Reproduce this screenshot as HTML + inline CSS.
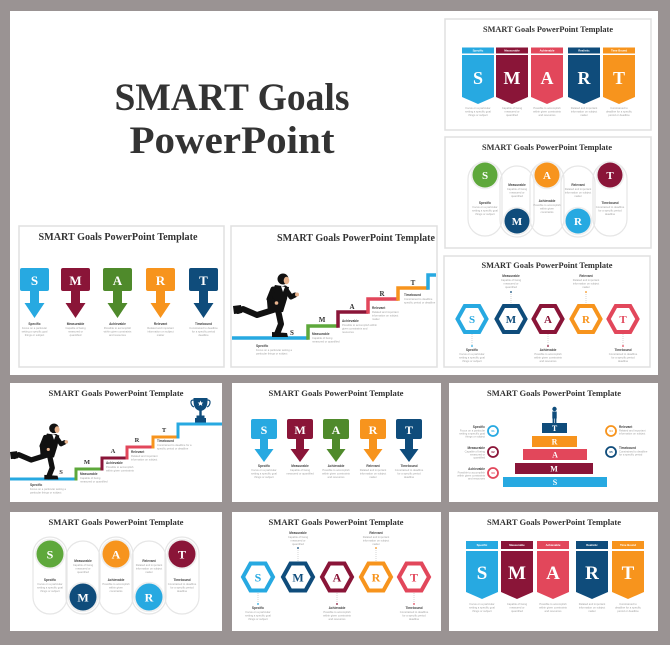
<!DOCTYPE html>
<html><head><meta charset="utf-8"><style>
html,body{margin:0;padding:0;background:#9a9393;}
svg{display:block}
.t{font-family:"Liberation Serif",serif;font-weight:bold;fill:#333;text-anchor:middle}
.lt{font-family:"Liberation Serif",serif;font-weight:bold;fill:#fff;text-anchor:middle}
.l{font-family:"Liberation Sans",sans-serif;font-weight:bold;font-size:3.2px;fill:#444;text-anchor:middle}
.g{font-family:"Liberation Sans",sans-serif;font-size:2.7px;fill:#a3a3a3;text-anchor:middle}
.h{font-family:"Liberation Sans",sans-serif;font-weight:bold;font-size:2.8px;fill:#fff;text-anchor:middle}
.s{text-anchor:start}
.e{text-anchor:end}
</style></head><body>
<svg width="670" height="645" viewBox="0 0 670 645" xmlns="http://www.w3.org/2000/svg">
<defs>
<g id="runner">
  <polyline points="40,37 24,42 10,36 5,38" fill="none" stroke="#111" stroke-width="6" stroke-linejoin="round" stroke-linecap="round"/>
  <polygon points="0,33 8,32 9,40 1,41" fill="#111"/>
  <polyline points="45,37 48,51 44,61" fill="none" stroke="#111" stroke-width="6" stroke-linejoin="round" stroke-linecap="round"/>
  <polygon points="39,59 54,60 55,64 39,64" fill="#111"/>
  <polygon points="42,12 56,14 54,26 50,39 35,40 34,28" fill="#111"/>
  <polyline points="52,15 58,24 62,22" fill="none" stroke="#111" stroke-width="5" stroke-linejoin="round" stroke-linecap="round"/>
  <circle cx="64" cy="21.5" r="2" fill="#e8b48f"/>
  <polyline points="40,16 36,26 42,30" fill="none" stroke="#111" stroke-width="5" stroke-linejoin="round" stroke-linecap="round"/>
  <circle cx="43.5" cy="30" r="1.8" fill="#e8b48f"/>
  <polygon points="48,13 52,14 50,19" fill="#fff"/>
  <circle cx="50" cy="6" r="5.5" fill="#111"/>
  <ellipse cx="53.5" cy="7.5" rx="2.8" ry="3.8" fill="#e8b48f"/>
</g>
</defs>

<rect x="0" y="0" width="670" height="645" fill="#9a9393"/>
<rect x="10" y="11" width="648" height="364" fill="#fff"/>

<text class="t" x="232" y="110" font-size="39" textLength="235" lengthAdjust="spacingAndGlyphs">SMART Goals</text>
<text class="t" x="232" y="153" font-size="39" textLength="205" lengthAdjust="spacingAndGlyphs">PowerPoint</text>

<!-- frames -->
<rect x="19" y="226" width="205" height="141" fill="#fff" stroke="#e0e0e0" stroke-width="1.5"/>
<rect x="231" y="226" width="206" height="141" fill="#fff" stroke="#e0e0e0" stroke-width="1.5"/>
<rect x="445" y="19" width="206" height="111" fill="#fff" stroke="#e0e0e0" stroke-width="1.5"/>
<rect x="445" y="137" width="206" height="111" fill="#fff" stroke="#e0e0e0" stroke-width="1.5"/>
<rect x="444" y="256" width="206" height="111" fill="#fff" stroke="#e0e0e0" stroke-width="1.5"/>
<rect x="10" y="383" width="212" height="119" fill="#fff"/>
<rect x="232" y="383" width="209" height="119" fill="#fff"/>
<rect x="449" y="383" width="209" height="119" fill="#fff"/>
<rect x="10" y="512" width="212" height="119" fill="#fff"/>
<rect x="232" y="512" width="209" height="119" fill="#fff"/>
<rect x="449" y="512" width="209" height="119" fill="#fff"/>

<!-- ===== FA banner ===== -->
<text class="t" x="548" y="32" font-size="8.3" textLength="130" lengthAdjust="spacingAndGlyphs">SMART Goals PowerPoint Template</text>
<rect x="462" y="47.5" width="32" height="6" fill="#27a9e1"/>
<rect x="496" y="47.5" width="32" height="6" fill="#8a1538"/>
<rect x="531" y="47.5" width="32" height="6" fill="#e2475b"/>
<rect x="568" y="47.5" width="32" height="6" fill="#0f4c7b"/>
<rect x="603" y="47.5" width="32" height="6" fill="#f7941d"/>
<text class="h" x="478" y="51.7">Specific</text>
<text class="h" x="512" y="51.7">Measurable</text>
<text class="h" x="547" y="51.7">Achievable</text>
<text class="h" x="584" y="51.7">Realistic</text>
<text class="h" x="619" y="51.7">Time Bound</text>
<polygon points="462,55 494,55 494,97 478,104 462,97" fill="#27a9e1"/>
<polygon points="496,55 528,55 528,97 512,104 496,97" fill="#8a1538"/>
<polygon points="531,55 563,55 563,97 547,104 531,97" fill="#e2475b"/>
<polygon points="568,55 600,55 600,97 584,104 568,97" fill="#0f4c7b"/>
<polygon points="603,55 635,55 635,97 619,104 603,97" fill="#f7941d"/>
<text class="lt" x="478" y="84" font-size="18">S</text>
<text class="lt" x="512" y="84" font-size="18">M</text>
<text class="lt" x="547" y="84" font-size="18">A</text>
<text class="lt" x="584" y="84" font-size="18">R</text>
<text class="lt" x="619" y="84" font-size="18">T</text>
<text class="g" x="478" y="109">Focus on a particular</text><text class="g" x="478" y="112.5">setting a specific goal</text><text class="g" x="478" y="116">things or subject</text>
<text class="g" x="512" y="109">Capable of being</text><text class="g" x="512" y="112.5">measured or</text><text class="g" x="512" y="116">quantified</text>
<text class="g" x="547" y="109">Possible to accomplish</text><text class="g" x="547" y="112.5">within given constraints</text><text class="g" x="547" y="116">and resources</text>
<text class="g" x="584" y="109">Related and important</text><text class="g" x="584" y="112.5">information on subject</text><text class="g" x="584" y="116">matter</text>
<text class="g" x="619" y="109">Constrained to</text><text class="g" x="619" y="112.5">deadline for a specific</text><text class="g" x="619" y="116">period or deadline</text>

<!-- ===== FB circles ===== -->
<text class="t" x="547" y="150" font-size="8.3" textLength="130" lengthAdjust="spacingAndGlyphs">SMART Goals PowerPoint Template</text>
<g fill="none" stroke="#e6e6e6" stroke-width="1.2">
<rect x="468" y="162" width="34" height="74" rx="17"/>
<rect x="500" y="166" width="34" height="71" rx="17"/>
<rect x="530" y="162" width="34" height="74" rx="17"/>
<rect x="561" y="166" width="34" height="71" rx="17"/>
<rect x="593" y="162" width="34" height="74" rx="17"/>
</g>
<g fill="#efefef">
<circle cx="485" cy="175" r="14.3"/><circle cx="547" cy="175" r="14.3"/><circle cx="610" cy="175" r="14.3"/>
<circle cx="517" cy="221" r="14.3"/><circle cx="578" cy="221" r="14.3"/>
</g>
<circle cx="485" cy="175" r="12.5" fill="#5ea83b"/>
<circle cx="547" cy="175" r="12.5" fill="#f7941d"/>
<circle cx="610" cy="175" r="12.5" fill="#8a1538"/>
<circle cx="517" cy="221" r="12.5" fill="#0f4c7b"/>
<circle cx="578" cy="221" r="12.5" fill="#27a9e1"/>
<text class="lt" x="485" y="179" font-size="11">S</text>
<text class="lt" x="547" y="179" font-size="11">A</text>
<text class="lt" x="610" y="179" font-size="11">T</text>
<text class="lt" x="517" y="225" font-size="11">M</text>
<text class="lt" x="578" y="225" font-size="11">R</text>
<text class="l" x="517" y="186">Measurable</text><text class="g" x="517" y="190">Capable of being</text><text class="g" x="517" y="193.5">measured or</text><text class="g" x="517" y="197">quantified</text>
<text class="l" x="485" y="204">Specific</text><text class="g" x="485" y="208">Focus on a particular</text><text class="g" x="485" y="211.5">setting a specific goal</text><text class="g" x="485" y="215">things or subject</text>
<text class="l" x="547" y="202">Achievable</text><text class="g" x="547" y="206">Possible to accomplish</text><text class="g" x="547" y="209.5">within given</text><text class="g" x="547" y="213">constraints</text>
<text class="l" x="578" y="186">Relevant</text><text class="g" x="578" y="190">Related and important</text><text class="g" x="578" y="193.5">information on subject</text><text class="g" x="578" y="197">matter</text>
<text class="l" x="610" y="204">Timebound</text><text class="g" x="610" y="208">Constrained to deadline</text><text class="g" x="610" y="211.5">for a specific period</text><text class="g" x="610" y="215">deadline</text>

<!-- ===== FC hexagons ===== -->
<text class="t" x="547" y="268" font-size="8.3" textLength="131" lengthAdjust="spacingAndGlyphs">SMART Goals PowerPoint Template</text>
<g fill="#fff" stroke-width="4" stroke-linejoin="miter">
<polygon points="457.5,319 464.75,306 479.25,306 486.5,319 479.25,332 464.75,332" stroke="#27a9e1"/>
<polygon points="496.5,319 503.75,306 518.25,306 525.5,319 518.25,332 503.75,332" stroke="#0f4c7b"/>
<polygon points="533.5,319 540.75,306 555.25,306 562.5,319 555.25,332 540.75,332" stroke="#8a1538"/>
<polygon points="571.5,319 578.75,306 593.25,306 600.5,319 593.25,332 578.75,332" stroke="#f7941d"/>
<polygon points="608.5,319 615.75,306 630.25,306 637.5,319 630.25,332 615.75,332" stroke="#e2475b"/>
</g>
<text class="t" x="472" y="323" font-size="11" style="fill:#27a9e1">S</text>
<text class="t" x="511" y="323" font-size="11" style="fill:#0f4c7b">M</text>
<text class="t" x="548" y="323" font-size="11" style="fill:#8a1538">A</text>
<text class="t" x="586" y="323" font-size="11" style="fill:#f7941d">R</text>
<text class="t" x="623" y="323" font-size="11" style="fill:#e2475b">T</text>
<g stroke="#bbb" stroke-width="0.6" stroke-dasharray="1 1">
<line x1="511" y1="292" x2="511" y2="304"/><line x1="586" y1="292" x2="586" y2="304"/>
<line x1="472" y1="334" x2="472" y2="346"/><line x1="548" y1="334" x2="548" y2="346"/><line x1="623" y1="334" x2="623" y2="346"/>
</g>
<circle cx="511" cy="292" r="0.9" fill="#0f4c7b"/><circle cx="586" cy="292" r="0.9" fill="#f7941d"/>
<circle cx="472" cy="346" r="0.9" fill="#27a9e1"/><circle cx="548" cy="346" r="0.9" fill="#8a1538"/><circle cx="623" cy="346" r="0.9" fill="#e2475b"/>
<text class="l" x="511" y="277">Measurable</text><text class="g" x="511" y="281">Capable of being</text><text class="g" x="511" y="284.5">measured or</text><text class="g" x="511" y="288">quantified</text>
<text class="l" x="586" y="277">Relevant</text><text class="g" x="586" y="281">Related and important</text><text class="g" x="586" y="284.5">information on subject</text><text class="g" x="586" y="288">matter</text>
<text class="l" x="472" y="351">Specific</text><text class="g" x="472" y="355">Focus on a particular</text><text class="g" x="472" y="358.5">setting a specific goal</text><text class="g" x="472" y="362">things or subject</text>
<text class="l" x="548" y="351">Achievable</text><text class="g" x="548" y="355">Possible to accomplish</text><text class="g" x="548" y="358.5">within given constraints</text><text class="g" x="548" y="362">and resources</text>
<text class="l" x="623" y="351">Timebound</text><text class="g" x="623" y="355">Constrained to deadline</text><text class="g" x="623" y="358.5">for a specific period</text><text class="g" x="623" y="362">deadline</text>

<!-- ===== F1 arrows ===== -->
<text class="t" x="118" y="240" font-size="10" textLength="159" lengthAdjust="spacingAndGlyphs">SMART Goals PowerPoint Template</text>
<g fill="#27a9e1"><rect x="20" y="268" width="29" height="23" rx="2"/><rect x="30" y="290" width="9" height="14"/><polygon points="24.5,303 44.5,303 34.5,318"/></g>
<g fill="#8a1538"><rect x="61" y="268" width="29" height="23" rx="2"/><rect x="71" y="290" width="9" height="14"/><polygon points="65.5,303 85.5,303 75.5,318"/></g>
<g fill="#4f8a2b"><rect x="103" y="268" width="29" height="23" rx="2"/><rect x="113" y="290" width="9" height="14"/><polygon points="107.5,303 127.5,303 117.5,318"/></g>
<g fill="#f7941d"><rect x="146" y="268" width="29" height="23" rx="2"/><rect x="156" y="290" width="9" height="14"/><polygon points="150.5,303 170.5,303 160.5,318"/></g>
<g fill="#0f4c7b"><rect x="189" y="268" width="29" height="23" rx="2"/><rect x="199" y="290" width="9" height="14"/><polygon points="193.5,303 213.5,303 203.5,318"/></g>
<text class="lt" x="34.5" y="285" font-size="13">S</text>
<text class="lt" x="75.5" y="285" font-size="13">M</text>
<text class="lt" x="117.5" y="285" font-size="13">A</text>
<text class="lt" x="160.5" y="285" font-size="13">R</text>
<text class="lt" x="203.5" y="285" font-size="13">T</text>
<text class="l" x="34.5" y="325">Specific</text><text class="g" x="34.5" y="329">Focus on a particular</text><text class="g" x="34.5" y="332.5">setting a specific goal</text><text class="g" x="34.5" y="336">things or subject</text>
<text class="l" x="75.5" y="325">Measurable</text><text class="g" x="75.5" y="329">Capable of being</text><text class="g" x="75.5" y="332.5">measured or</text><text class="g" x="75.5" y="336">quantified</text>
<text class="l" x="117.5" y="325">Achievable</text><text class="g" x="117.5" y="329">Possible to accomplish</text><text class="g" x="117.5" y="332.5">within given constraints</text><text class="g" x="117.5" y="336">and resources</text>
<text class="l" x="160.5" y="325">Relevant</text><text class="g" x="160.5" y="329">Related and important</text><text class="g" x="160.5" y="332.5">information on subject</text><text class="g" x="160.5" y="336">matter</text>
<text class="l" x="203.5" y="325">Timebound</text><text class="g" x="203.5" y="329">Constrained to deadline</text><text class="g" x="203.5" y="332.5">for a specific period</text><text class="g" x="203.5" y="336">deadline</text>

<!-- ===== F2 stairs ===== -->
<text class="t" x="356" y="241" font-size="10" textLength="158" lengthAdjust="spacingAndGlyphs">SMART Goals PowerPoint Template</text>
<g fill="none" stroke-width="3.5">
<polyline points="232,338 308,338" stroke="#27a9e1"/>
<polyline points="308,339.7 308,326 338,326" stroke="#5ea83b"/>
<polyline points="338,327.7 338,312 368,312" stroke="#8a1538"/>
<polyline points="368,313.7 368,299 398,299" stroke="#e2475b"/>
<polyline points="398,300.7 398,288 428,288" stroke="#f7941d"/>
<polyline points="428,289.7 428,275 436,275" stroke="#27a9e1"/>
</g>
<use href="#runner" transform="translate(233,273)"/>
<text class="t" x="292" y="335" font-size="7">S</text>
<text class="t" x="322" y="322" font-size="7">M</text>
<text class="t" x="352" y="309" font-size="7">A</text>
<text class="t" x="382" y="296" font-size="7">R</text>
<text class="t" x="413" y="285" font-size="7">T</text>
<text class="l s" x="256" y="347">Specific</text><text class="g s" x="256" y="351">Focus on a particular setting a</text><text class="g s" x="256" y="354.5">particular things or subject</text>
<text class="l s" x="312" y="335">Measurable</text><text class="g s" x="312" y="339">Capable of being</text><text class="g s" x="312" y="342.5">measured or quantified</text>
<text class="l s" x="342" y="322">Achievable</text><text class="g s" x="342" y="326">Possible to accomplish within</text><text class="g s" x="342" y="329.5">given constraints and</text><text class="g s" x="342" y="333">resources</text>
<text class="l s" x="372" y="309">Relevant</text><text class="g s" x="372" y="313">Related and important</text><text class="g s" x="372" y="316.5">information on subject</text><text class="g s" x="372" y="320">matter</text>
<text class="l s" x="404" y="296">Timebound</text><text class="g s" x="404" y="300">Constrained to deadline</text><text class="g s" x="404" y="303.5">specific period or deadline</text>

<!-- ===== R2a stairs ===== -->
<text class="t" x="116" y="396" font-size="8.6" textLength="135" lengthAdjust="spacingAndGlyphs">SMART Goals PowerPoint Template</text>
<g fill="none" stroke-width="3">
<polyline points="10,479 76,479" stroke="#27a9e1"/>
<polyline points="76,480.5 76,469 102,469" stroke="#5ea83b"/>
<polyline points="102,470.5 102,458 127,458" stroke="#8a1538"/>
<polyline points="127,459.5 127,447 153,447" stroke="#e2475b"/>
<polyline points="153,448.5 153,437 178,437" stroke="#f7941d"/>
<polyline points="178,438.5 178,424 222,424" stroke="#27a9e1"/>
</g>
<use href="#runner" transform="translate(10,423) scale(0.88)"/>
<g fill="#0f4c7b">
<path d="M193.5,398 h14 v3 q0,9 -7,10 q-7,-1 -7,-10z"/>
<rect x="199.3" y="410" width="2.4" height="6"/>
<rect x="196.5" y="415.5" width="8" height="2.5"/>
<rect x="195" y="418" width="11" height="4.5"/>
</g>
<g fill="none" stroke="#0f4c7b" stroke-width="1.2"><path d="M193.5,400 q-3,0 -2.5,3 q0.5,3 3,4"/><path d="M207.5,400 q3,0 2.5,3 q-0.5,3 -3,4"/></g>
<polygon points="200.5,400.5 201.3,402.5 203.3,402.6 201.8,403.9 202.3,405.9 200.5,404.8 198.7,405.9 199.2,403.9 197.7,402.6 199.7,402.5" fill="#fff"/>
<text class="t" x="61" y="474" font-size="6.5">S</text>
<text class="t" x="87" y="464" font-size="6.5">M</text>
<text class="t" x="113" y="453" font-size="6.5">A</text>
<text class="t" x="137" y="442" font-size="6.5">R</text>
<text class="t" x="164" y="432" font-size="6.5">T</text>
<text class="l s" x="30" y="486">Specific</text><text class="g s" x="30" y="490">Focus on a particular setting a</text><text class="g s" x="30" y="493.5">particular things or subject</text>
<text class="l s" x="80" y="475">Measurable</text><text class="g s" x="80" y="479">Capable of being</text><text class="g s" x="80" y="482.5">measured or quantified</text>
<text class="l s" x="106" y="464">Achievable</text><text class="g s" x="106" y="468">Possible to accomplish</text><text class="g s" x="106" y="471.5">within given constraints</text>
<text class="l s" x="131" y="453">Relevant</text><text class="g s" x="131" y="457">Related and important</text><text class="g s" x="131" y="460.5">information on subject</text>
<text class="l s" x="157" y="442">Timebound</text><text class="g s" x="157" y="446">Constrained to deadline for a</text><text class="g s" x="157" y="449.5">specific period or deadline</text>

<!-- ===== R2b arrows ===== -->
<text class="t" x="336" y="396" font-size="8.6" textLength="135" lengthAdjust="spacingAndGlyphs">SMART Goals PowerPoint Template</text>
<g fill="#27a9e1"><rect x="251" y="419" width="26" height="20" rx="2"/><rect x="260" y="438" width="8" height="12"/><polygon points="254.5,449 273.5,449 264,462"/></g>
<g fill="#8a1538"><rect x="287" y="419" width="26" height="20" rx="2"/><rect x="296" y="438" width="8" height="12"/><polygon points="290.5,449 309.5,449 300,462"/></g>
<g fill="#4f8a2b"><rect x="323" y="419" width="26" height="20" rx="2"/><rect x="332" y="438" width="8" height="12"/><polygon points="326.5,449 345.5,449 336,462"/></g>
<g fill="#f7941d"><rect x="360" y="419" width="26" height="20" rx="2"/><rect x="369" y="438" width="8" height="12"/><polygon points="363.5,449 382.5,449 373,462"/></g>
<g fill="#0f4c7b"><rect x="396" y="419" width="26" height="20" rx="2"/><rect x="405" y="438" width="8" height="12"/><polygon points="399.5,449 418.5,449 409,462"/></g>
<text class="lt" x="264" y="434" font-size="12">S</text>
<text class="lt" x="300" y="434" font-size="12">M</text>
<text class="lt" x="336" y="434" font-size="12">A</text>
<text class="lt" x="373" y="434" font-size="12">R</text>
<text class="lt" x="409" y="434" font-size="12">T</text>
<text class="l" x="264" y="467">Specific</text><text class="g" x="264" y="471">Focus on a particular</text><text class="g" x="264" y="474.5">setting a specific goal</text><text class="g" x="264" y="478">things or subject</text>
<text class="l" x="300" y="467">Measurable</text><text class="g" x="300" y="471">Capable of being</text><text class="g" x="300" y="474.5">measured or quantified</text>
<text class="l" x="336" y="467">Achievable</text><text class="g" x="336" y="471">Possible to accomplish</text><text class="g" x="336" y="474.5">within given constraints</text><text class="g" x="336" y="478">and resources</text>
<text class="l" x="373" y="467">Relevant</text><text class="g" x="373" y="471">Related and important</text><text class="g" x="373" y="474.5">information on subject</text><text class="g" x="373" y="478">matter</text>
<text class="l" x="409" y="467">Timebound</text><text class="g" x="409" y="471">Constrained to deadline</text><text class="g" x="409" y="474.5">for a specific period</text><text class="g" x="409" y="478">deadline</text>

<!-- ===== R2c pyramid ===== -->
<text class="t" x="554" y="396" font-size="8.6" textLength="134" lengthAdjust="spacingAndGlyphs">SMART Goals PowerPoint Template</text>
<g fill="#0f4c7b"><circle cx="554.5" cy="409" r="2.2"/><rect x="552.3" y="411.5" width="4.4" height="7"/><rect x="552.6" y="418" width="1.6" height="5"/><rect x="554.8" y="418" width="1.6" height="5"/></g>
<rect x="542" y="423" width="25" height="10" fill="#0f4c7b"/>
<rect x="532" y="436" width="45" height="11" fill="#f7941d"/>
<rect x="523" y="449" width="64" height="11" fill="#e2475b"/>
<rect x="515" y="463" width="78" height="11" fill="#8a1538"/>
<rect x="503" y="477" width="104" height="10" fill="#27a9e1"/>
<text class="lt" x="554.5" y="431" font-size="8">T</text>
<text class="lt" x="554.5" y="444.5" font-size="8">R</text>
<text class="lt" x="555" y="457.5" font-size="8">A</text>
<text class="lt" x="554" y="471.5" font-size="8">M</text>
<text class="lt" x="555" y="485" font-size="8">S</text>
<g fill="#fff" stroke-width="1.8">
<circle cx="493" cy="431" r="5" stroke="#27a9e1"/>
<circle cx="493" cy="452" r="5" stroke="#8a1538"/>
<circle cx="493" cy="473" r="5" stroke="#e2475b"/>
<circle cx="611" cy="431" r="5" stroke="#f7941d"/>
<circle cx="611" cy="452" r="5" stroke="#0f4c7b"/>
</g>
<text class="l" x="493" y="432.2" style="fill:#27a9e1;font-size:3px">01</text>
<text class="l" x="493" y="453.2" style="fill:#8a1538;font-size:3px">02</text>
<text class="l" x="493" y="474.2" style="fill:#e2475b;font-size:3px">03</text>
<text class="l" x="611" y="432.2" style="fill:#f7941d;font-size:3px">04</text>
<text class="l" x="611" y="453.2" style="fill:#0f4c7b;font-size:3px">05</text>
<text class="l e" x="485" y="428">Specific</text><text class="g e" x="485" y="431.5">Focus on a particular</text><text class="g e" x="485" y="434.5">setting a specific goal</text><text class="g e" x="485" y="437.5">things or subject</text>
<text class="l e" x="485" y="449">Measurable</text><text class="g e" x="485" y="452.5">Capable of being</text><text class="g e" x="485" y="455.5">measured or</text><text class="g e" x="485" y="458.5">quantified</text>
<text class="l e" x="485" y="470">Achievable</text><text class="g e" x="485" y="473.5">Possible to accomplish</text><text class="g e" x="485" y="476.5">within given constraints</text><text class="g e" x="485" y="479.5">and resources</text>
<text class="l s" x="619" y="428">Relevant</text><text class="g s" x="619" y="431.5">Related and important</text><text class="g s" x="619" y="434.5">information on subject</text>
<text class="l s" x="619" y="449">Timebound</text><text class="g s" x="619" y="452.5">Constrained to deadline</text><text class="g s" x="619" y="455.5">for a specific period</text>

<!-- ===== R3a circles ===== -->
<text class="t" x="116" y="525" font-size="8.6" textLength="135" lengthAdjust="spacingAndGlyphs">SMART Goals PowerPoint Template</text>
<g fill="none" stroke="#e6e6e6" stroke-width="1.2">
<rect x="33" y="537" width="34" height="77" rx="17"/>
<rect x="66" y="541" width="34" height="73" rx="17"/>
<rect x="99" y="537" width="34" height="77" rx="17"/>
<rect x="132" y="541" width="34" height="73" rx="17"/>
<rect x="165" y="537" width="34" height="77" rx="17"/>
</g>
<g fill="#efefef">
<circle cx="50" cy="554" r="15.3"/><circle cx="116" cy="554" r="15.3"/><circle cx="182" cy="554" r="15.3"/>
<circle cx="83" cy="597" r="15.3"/><circle cx="149" cy="597" r="15.3"/>
</g>
<circle cx="50" cy="554" r="13.5" fill="#5ea83b"/>
<circle cx="116" cy="554" r="13.5" fill="#f7941d"/>
<circle cx="182" cy="554" r="13.5" fill="#8a1538"/>
<circle cx="83" cy="597" r="13.5" fill="#0f4c7b"/>
<circle cx="149" cy="597" r="13.5" fill="#27a9e1"/>
<text class="lt" x="50" y="558.5" font-size="12">S</text>
<text class="lt" x="116" y="558.5" font-size="12">A</text>
<text class="lt" x="182" y="558.5" font-size="12">T</text>
<text class="lt" x="83" y="601.5" font-size="12">M</text>
<text class="lt" x="149" y="601.5" font-size="12">R</text>
<text class="l" x="83" y="562">Measurable</text><text class="g" x="83" y="566">Capable of being</text><text class="g" x="83" y="569.5">measured or</text><text class="g" x="83" y="573">quantified</text>
<text class="l" x="50" y="581">Specific</text><text class="g" x="50" y="585">Focus on a particular</text><text class="g" x="50" y="588.5">setting a specific goal</text><text class="g" x="50" y="592">things or subject</text>
<text class="l" x="116" y="581">Achievable</text><text class="g" x="116" y="585">Possible to accomplish</text><text class="g" x="116" y="588.5">within given</text><text class="g" x="116" y="592">constraints</text>
<text class="l" x="149" y="562">Relevant</text><text class="g" x="149" y="566">Related and important</text><text class="g" x="149" y="569.5">information on subject</text><text class="g" x="149" y="573">matter</text>
<text class="l" x="182" y="581">Timebound</text><text class="g" x="182" y="585">Constrained to deadline</text><text class="g" x="182" y="588.5">for a specific period</text><text class="g" x="182" y="592">deadline</text>

<!-- ===== R3b hexagons ===== -->
<text class="t" x="336" y="525" font-size="8.6" textLength="135" lengthAdjust="spacingAndGlyphs">SMART Goals PowerPoint Template</text>
<g fill="#fff" stroke-width="4">
<polygon points="243,577 250.5,563.5 265.5,563.5 273,577 265.5,590.5 250.5,590.5" stroke="#27a9e1"/>
<polygon points="283,577 290.5,563.5 305.5,563.5 313,577 305.5,590.5 290.5,590.5" stroke="#0f4c7b"/>
<polygon points="322,577 329.5,563.5 344.5,563.5 352,577 344.5,590.5 329.5,590.5" stroke="#8a1538"/>
<polygon points="361,577 368.5,563.5 383.5,563.5 391,577 383.5,590.5 368.5,590.5" stroke="#f7941d"/>
<polygon points="399,577 406.5,563.5 421.5,563.5 429,577 421.5,590.5 406.5,590.5" stroke="#e2475b"/>
</g>
<text class="t" x="258" y="581.5" font-size="12" style="fill:#27a9e1">S</text>
<text class="t" x="298" y="581.5" font-size="12" style="fill:#0f4c7b">M</text>
<text class="t" x="337" y="581.5" font-size="12" style="fill:#8a1538">A</text>
<text class="t" x="376" y="581.5" font-size="12" style="fill:#f7941d">R</text>
<text class="t" x="414" y="581.5" font-size="12" style="fill:#e2475b">T</text>
<g stroke="#bbb" stroke-width="0.6" stroke-dasharray="1 1">
<line x1="298" y1="548" x2="298" y2="561"/><line x1="376" y1="548" x2="376" y2="561"/>
<line x1="258" y1="593" x2="258" y2="604"/><line x1="337" y1="593" x2="337" y2="604"/><line x1="414" y1="593" x2="414" y2="604"/>
</g>
<circle cx="298" cy="548" r="0.9" fill="#0f4c7b"/><circle cx="376" cy="548" r="0.9" fill="#f7941d"/>
<circle cx="258" cy="604" r="0.9" fill="#27a9e1"/><circle cx="337" cy="604" r="0.9" fill="#8a1538"/><circle cx="414" cy="604" r="0.9" fill="#e2475b"/>
<text class="l" x="298" y="534">Measurable</text><text class="g" x="298" y="538">Capable of being</text><text class="g" x="298" y="541.5">measured or</text><text class="g" x="298" y="545">quantified</text>
<text class="l" x="376" y="534">Relevant</text><text class="g" x="376" y="538">Related and important</text><text class="g" x="376" y="541.5">information on subject</text><text class="g" x="376" y="545">matter</text>
<text class="l" x="258" y="609">Specific</text><text class="g" x="258" y="613">Focus on a particular</text><text class="g" x="258" y="616.5">setting a specific goal</text><text class="g" x="258" y="620">things or subject</text>
<text class="l" x="337" y="609">Achievable</text><text class="g" x="337" y="613">Possible to accomplish</text><text class="g" x="337" y="616.5">within given constraints</text><text class="g" x="337" y="620">and resources</text>
<text class="l" x="414" y="609">Timebound</text><text class="g" x="414" y="613">Constrained to deadline</text><text class="g" x="414" y="616.5">for a specific period</text><text class="g" x="414" y="620">deadline</text>

<!-- ===== R3c banner ===== -->
<text class="t" x="554" y="525" font-size="8.6" textLength="134" lengthAdjust="spacingAndGlyphs">SMART Goals PowerPoint Template</text>
<rect x="466" y="541" width="32" height="8" fill="#27a9e1"/>
<rect x="501" y="541" width="32" height="8" fill="#8a1538"/>
<rect x="537" y="541" width="32" height="8" fill="#e2475b"/>
<rect x="576" y="541" width="32" height="8" fill="#0f4c7b"/>
<rect x="612" y="541" width="32" height="8" fill="#f7941d"/>
<text class="h" x="482" y="546">Specific</text>
<text class="h" x="517" y="546">Measurable</text>
<text class="h" x="553" y="546">Achievable</text>
<text class="h" x="592" y="546">Realistic</text>
<text class="h" x="628" y="546">Time Bound</text>
<polygon points="466,551 498,551 498,592 482,599 466,592" fill="#27a9e1"/>
<polygon points="501,551 533,551 533,592 517,599 501,592" fill="#8a1538"/>
<polygon points="537,551 569,551 569,592 553,599 537,592" fill="#e2475b"/>
<polygon points="576,551 608,551 608,592 592,599 576,592" fill="#0f4c7b"/>
<polygon points="612,551 644,551 644,592 628,599 612,592" fill="#f7941d"/>
<text class="lt" x="482" y="579" font-size="19">S</text>
<text class="lt" x="517" y="579" font-size="19">M</text>
<text class="lt" x="553" y="579" font-size="19">A</text>
<text class="lt" x="592" y="579" font-size="19">R</text>
<text class="lt" x="628" y="579" font-size="19">T</text>
<text class="g" x="482" y="605">Focus on a particular</text><text class="g" x="482" y="608.5">setting a specific goal</text><text class="g" x="482" y="612">things or subject</text>
<text class="g" x="517" y="605">Capable of being</text><text class="g" x="517" y="608.5">measured or</text><text class="g" x="517" y="612">quantified</text>
<text class="g" x="553" y="605">Possible to accomplish</text><text class="g" x="553" y="608.5">within given constraints</text><text class="g" x="553" y="612">and resources</text>
<text class="g" x="592" y="605">Related and important</text><text class="g" x="592" y="608.5">information on subject</text><text class="g" x="592" y="612">matter</text>
<text class="g" x="628" y="605">Constrained to</text><text class="g" x="628" y="608.5">deadline for a specific</text><text class="g" x="628" y="612">period or deadline</text>
</svg>
</body></html>
